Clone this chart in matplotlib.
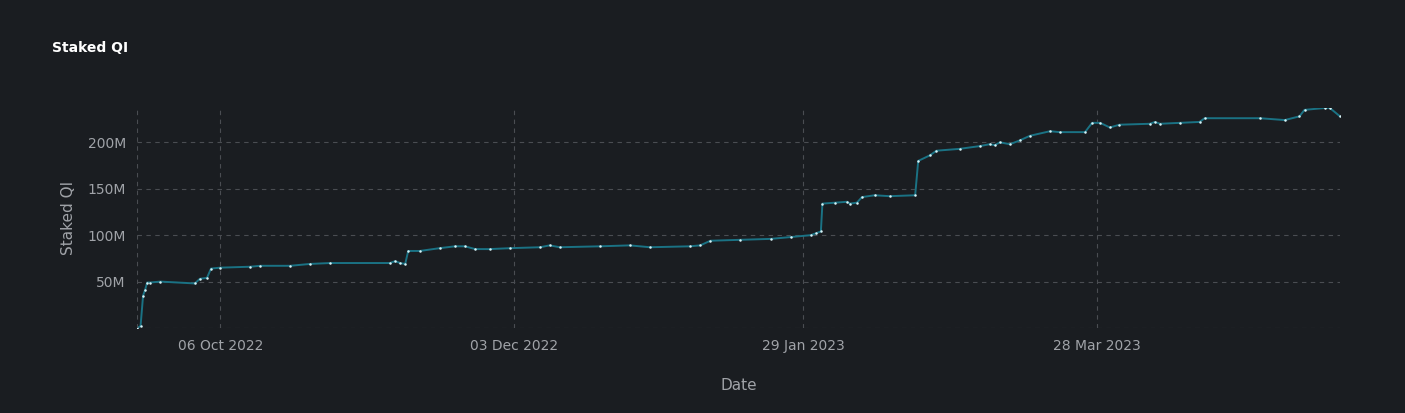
import matplotlib.pyplot as plt
import matplotlib.dates as mdates
import numpy as np
from datetime import datetime, timedelta

start = datetime(2022, 9, 19, 14)
days = [0, 0.7, 1.2, 1.6, 2, 2.6, 4.6, 11.4, 12.4, 13.8, 14.6, 16.4, 22.3, 24.3, 30.2, 34.1, 38.1,
        49.9, 50.9, 51.9, 52.9, 53.5, 55.8, 59.7, 62.7, 64.7, 66.7, 69.6, 73.6, 79.5, 81.4, 83.4,
        91.3, 97.2, 101.2, 109.1, 111.1, 113.1, 119, 125, 129, 132.9, 133.9, 134.9, 135.2, 137.7,
        140.1, 140.6, 142, 143, 145.5, 148.5, 153.5, 154.1, 156.4, 157.7, 162.3, 166.3, 168.2,
        169.2, 170.2, 172.2, 174.1, 176.1, 180.1, 182, 187, 188.4, 190, 191.9, 193.8, 199.8,
        200.8, 201.8, 205.7, 209.6, 210.6, 221.5, 226.4, 229.3, 230.3, 234.3, 235.3, 237.3]
staked = [0, 2, 35, 41, 49, 49, 50, 48, 53, 54, 64, 65, 66, 67, 67, 69, 70,
          70, 72, 70, 69, 83, 83, 86, 88, 88, 85, 85, 86, 87, 89, 87,
          88, 89, 87, 88, 89, 94, 95, 96, 98, 100, 102, 104, 134, 135, 136, 134,
          135, 141, 143, 142, 143, 180, 186, 191, 193, 196, 198, 197, 200,
          198, 202, 207, 212, 211, 211, 221, 221, 216, 219, 220, 222, 220,
          221, 222, 226, 226, 224, 228, 235, 237, 237, 228]
dates = [start + timedelta(days=d) for d in days]
vals = np.array(staked) * 1e6

bg = '#1a1d21'
fig = plt.figure(figsize=(14.05, 4.13), dpi=100, facecolor=bg)
ax = fig.add_axes([137/1405, 1-328/413, (1340-137)/1405, (328-108)/413], facecolor=bg)
ax.plot(dates, vals, color='#1a7284', lw=1.4)
ax.plot(dates, vals, 'o', color='#d8f4f8', ms=1.8, mew=0)
ax.set_xlim(start, start + timedelta(days=237.3))
ax.set_ylim(0, 237e6)
ax.set_yticks([50e6, 100e6, 150e6, 200e6])
ax.set_yticklabels(['50M', '100M', '150M', '200M'])
ticks = [datetime(2022, 10, 6), datetime(2022, 12, 3), datetime(2023, 1, 29), datetime(2023, 3, 28)]
ax.set_xticks(ticks)
ax.xaxis.set_major_formatter(mdates.DateFormatter('%d %b %Y'))
ax.grid(True, ls=(0, (4, 4)), color='#4a4d52', lw=0.8)
for s in ax.spines.values():
    s.set_visible(False)
ax.axvline(start, ls=(0, (4, 4)), color='#4a4d52', lw=0.8)
ax.axhline(0, ls=(0, (4, 4)), color='#4a4d52', lw=0.8)
ax.tick_params(colors='#a0a3a8', labelsize=10, length=0, pad=8)
ax.set_xlabel('Date', color='#a0a3a8', fontsize=11, labelpad=18)
ax.set_ylabel('Staked QI', color='#a0a3a8', fontsize=11, labelpad=8)
fig.text(52/1405, 1-48/413, 'Staked QI', color='white', fontsize=10, fontweight='bold', va='center')
fig.savefig('out.png', dpi=100, facecolor=bg)
